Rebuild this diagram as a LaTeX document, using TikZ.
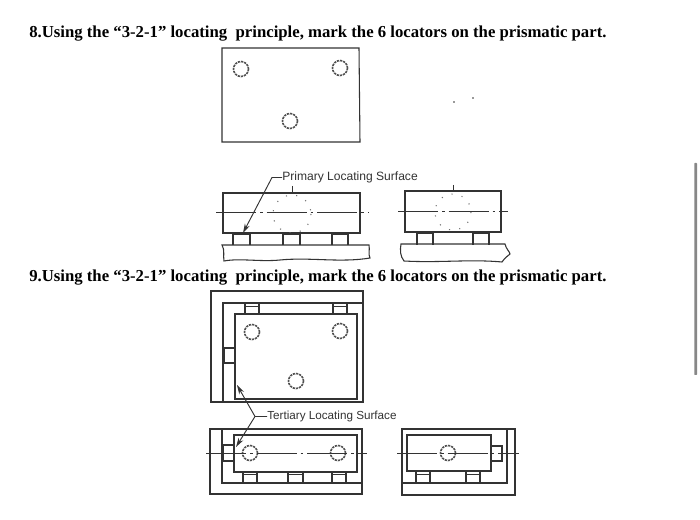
\documentclass[tikz,border=0pt]{standalone}
\usepackage{fontspec}
\setmainfont{Liberation Serif}
\newfontfamily\labelfont{Liberation Sans}
\usetikzlibrary{arrows.meta}
\definecolor{ink}{gray}{0.2}
\definecolor{barcol}{gray}{0.53}
\tikzset{
  x=0.75pt,y=-0.75pt,
  part/.style={draw=ink,line width=0.8pt},
  thin part/.style={draw=ink,line width=0.6pt},
  centre/.style={draw=ink,line width=0.6pt,dash pattern=on 30pt off 3pt on 2pt off 3pt},
  hole/.style={draw=ink!85,line width=1.2pt,dash pattern=on 1.7pt off 0.7pt},
  ghost/.style={draw=ink!70,line width=0.8pt,dash pattern=on 0.8pt off 7pt},
  heading/.style={anchor=west,inner sep=0pt,font=\bfseries\fontsize{12.55}{14}\selectfont},
  callout/.style={anchor=west,inner sep=0pt,text=ink,font=\labelfont\fontsize{9.05}{11}\selectfont},
  leader/.style={draw=ink,line width=0.7pt},
  tip/.style={-{Stealth[length=7pt,width=4pt]}},
  speck/.style={fill=ink,draw=none},
}
\begin{document}
\begin{tikzpicture}
\useasboundingbox (0,0) rectangle (700,520);
\fill[white] (0,0) rectangle (700,520);
% headings
\node[heading] (h8) at (29,33.5) {8.Using the “3-2-1” locating\ \ principle, mark the 6 locators on the prismatic part.};
\node[heading] (h9) at (29,278) {9.Using the “3-2-1” locating\ \ principle, mark the 6 locators on the prismatic part.};
% scroll bar
\fill[barcol,rounded corners=0.5pt] (694.3,163) rectangle (697,375);

% ===== Problem 8 top view =====
\draw[part] (222,48) -- (359,48) -- (360,142) -- (222,142) -- cycle;
\draw[hole] (241,69) circle (7.5);
\draw[hole] (340,68) circle (7.5);
\draw[hole] (290,121) circle (7.5);
\fill[speck] (454,102) circle (0.9);
\fill[speck] (473,98) circle (0.9);

% ===== Problem 8 front view =====
\draw[part] (223,193) rectangle (360,233);
\draw[centre] (216,212) -- (369,212);
\draw[thin part] (292,186) -- (292,192);
\draw[ghost] (292,214) circle (19);
\foreach \a/\b in {233/250,283/300,332/348}{
  \draw[part] (\a,245) -- (\a,234) -- (\b,234) -- (\b,245);
}
\draw[part] (222,245) -- (369,245) .. controls (370,250) and (368,254) .. (370,258)
  .. controls (340,263) and (310,257) .. (280,260) .. controls (260,262) and (240,258) .. (224,261)
  .. controls (223,256) and (225,250) .. (222,245) -- cycle;
% side view
\draw[part] (405,191) rectangle (501,232);
\draw[centre] (398,211) -- (508,211);
\draw[thin part] (453,185) -- (453,191);
\draw[ghost] (453,212) circle (18);
\foreach \a/\b in {417/433,473/489}{
  \draw[part] (\a,245) -- (\a,233) -- (\b,233) -- (\b,245);
}
\draw[part] (401,244) -- (505,244) .. controls (506,249) and (510,252) .. (510,254)
  .. controls (505,258) and (503,260) .. (502,262) .. controls (470,259) and (440,263) .. (404,261)
  .. controls (400,256) and (400,250) .. (401,244) -- cycle;
% primary label
\node[callout] (prim) at (282,177.5) {Primary Locating Surface};
\coordinate (primknee) at (272,177.5);
\coordinate (primtip) at (243,233);
\draw[leader,tip] (prim.west) -- (primknee) -- (primtip);

% ===== Problem 9 top view =====
\draw[part] (211,402) -- (211,291) -- (363,291) -- (363,402) -- cycle;
\draw[part] (363,303) -- (223,303) -- (223,402);
\draw[part] (235,314) rectangle (357,399);
\foreach \a/\b in {245/259,333/347}{
  \draw[part] (\a,303) -- (\a,314) (\b,303) -- (\b,314);
  \draw[thin part] (\a,306) -- (\b,306);
}
\draw[part] (224,348) -- (235,348) (224,363) -- (235,363) (224,348) -- (224,363);
\draw[hole] (252,332) circle (7.5);
\draw[hole] (340,331) circle (7.5);
\draw[hole] (296,381) circle (7.5);

% ===== Problem 9 front view =====
\draw[part] (210,429) rectangle (362,494);
\draw[part] (222,429) -- (222,483) -- (362,483);
\draw[part] (234,435) rectangle (357,472);
\foreach \a/\b in {243/257,288/303,332/346}{
  \draw[part] (\a,483) -- (\a,472) (\b,483) -- (\b,472);
  \draw[thin part] (\a,474) -- (\b,474);
}
\draw[part] (223,445) -- (234,445) (223,461) -- (234,461) (223,445) -- (223,461);
\draw[hole] (250,453) circle (7.5);
\draw[hole] (338,453) circle (7.5);
\draw[centre] (206,453) -- (367,453);
% side view
\draw[part] (402,429) rectangle (515,495);
\draw[part] (402,483) -- (507,483) -- (507,429);
\draw[part] (407,435) rectangle (491,471);
\foreach \a/\b in {416/430,466/480}{
  \draw[part] (\a,483) -- (\a,472) (\b,483) -- (\b,472);
  \draw[thin part] (\a,474) -- (\b,474);
}
\draw[part] (491,446) -- (502,446) -- (502,461) -- (491,461);
\draw[hole] (448,453) circle (7.5);
\draw[centre] (397,453) -- (519,453);
% tertiary label
\node[callout,font=\labelfont\fontsize{8.77}{11}\selectfont] (tert) at (267,416.5) {Tertiary Locating Surface};
\coordinate (tertknee) at (255,416.5);
\coordinate (terttop) at (237,385);
\coordinate (tertlow) at (236,447);
\draw[leader,tip] (tert.west) -- (tertknee) -- (terttop);
\draw[leader,tip] (tertknee) -- (tertlow);
\end{tikzpicture}
\end{document}
